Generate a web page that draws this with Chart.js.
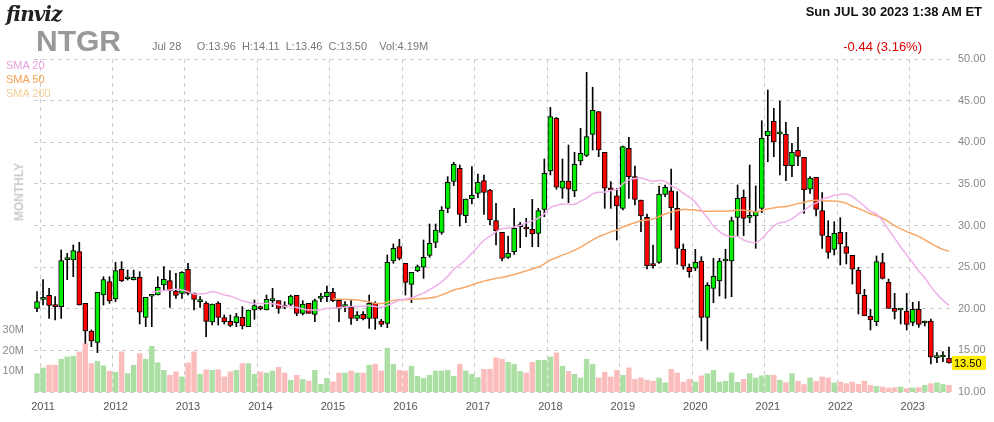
<!DOCTYPE html>
<html><head><meta charset="utf-8">
<script src="https://cdn.jsdelivr.net/npm/chart.js@4"></script>
<style>
body{margin:0;background:#fff;font-family:"Liberation Sans",Arial,sans-serif;}
#wrap{position:relative;width:994px;height:422px;}
canvas{position:absolute;left:0;top:0;}
.t{position:absolute;white-space:nowrap;}
</style></head><body>
<div id="wrap">
<canvas id="c" width="994" height="422"></canvas>
<div class="t" style="left:6px;top:2px;font:bold italic 20px 'DejaVu Serif',serif;color:#222;letter-spacing:-1px">finviz</div>
<div class="t" style="right:12px;top:4px;font:bold 13px 'Liberation Sans';color:#111">Sun JUL 30 2023 1:38 AM ET</div>
<div class="t" style="left:36px;top:24px;font:bold 30px 'Liberation Sans';color:#999">NTGR</div>
<div class="t" style="left:152px;top:40px;font:11px 'Liberation Sans';color:#777;word-spacing:0px">Jul 28 &nbsp;&nbsp;&nbsp;&nbsp;O:13.96 &nbsp;H:14.11 &nbsp;L:13.46 &nbsp;C:13.50 &nbsp;&nbsp;&nbsp;Vol:4.19M</div>
<div class="t" style="right:72px;top:39px;font:13px 'Liberation Sans';color:#d00">-0.44 (3.16%)</div>
<div class="t" style="left:6px;top:59px;font:11px 'Liberation Sans';color:#e8a0e0">SMA 20</div>
<div class="t" style="left:6px;top:73px;font:11px 'Liberation Sans';color:#f5a050">SMA 50</div>
<div class="t" style="left:6px;top:87px;font:11px 'Liberation Sans';color:#f3d090">SMA 200</div>
<div class="t" style="left:-10px;top:185px;transform:rotate(-90deg);font:bold 12px 'Liberation Sans';color:#ccc">MONTHLY</div>
</div>
<script>
const open_=[20.05,21.13,21.61,20.3,20.25,25.9,25.86,26.86,20.65,17.33,15.97,21.65,23.25,21.17,24.73,23.6,23.5,23.77,18.97,21.5,21.65,22.85,23.37,22.13,21.85,24.73,21.89,20.85,20.69,18.41,20.69,18.93,18.49,18.33,18.97,17.85,19.85,20.25,19.85,20.97,20.97,20.25,20.53,21.61,19.45,20.65,19.33,21.25,21.45,21.97,21.01,20.25,20.17,18.85,19.33,18.85,20.65,18.53,18.25,25.74,27.46,25.46,22.93,24.58,24.98,26.42,27.98,29.18,32.06,35.3,36.87,31.18,33.22,33.86,35.39,34.26,30.58,29.18,26.18,26.86,29.86,29.6,29.54,29.06,31.94,36.55,42.87,34.47,35.35,34.15,37.75,38.43,40.95,43.67,38.79,34.3,33.55,32.06,39.27,35.87,33.06,30.98,25.2,25.58,33.74,34.15,32.06,27.14,24.98,24.86,25.74,18.97,22.45,23.33,25.74,25.74,30.98,33.38,30.98,31.14,32.06,40.79,42.51,41.0,40.95,37.19,39.03,38.19,34.35,35.79,31.78,28.7,27.14,29.18,27.46,26.42,24.62,21.61,19.09,18.45,25.54,23.17,20.05,19.85,19.73,18.37,19.93,18.29,18.53,14.13,14.2,14.05];
const close_=[20.85,21.37,20.41,20.25,25.78,25.95,26.98,20.45,17.33,16.13,21.97,23.5,20.93,24.57,23.33,23.6,23.77,19.6,21.37,21.53,22.57,23.53,22.13,21.61,24.37,21.85,21.13,20.85,18.49,20.57,18.97,18.45,18.01,19.05,17.93,19.85,20.37,20.0,21.13,20.97,20.05,20.2,21.53,19.45,20.57,19.45,20.97,21.53,21.97,20.97,20.05,20.3,18.85,19.25,18.77,20.65,18.85,18.13,25.58,27.26,26.06,23.17,24.37,25.06,26.18,27.86,29.46,31.82,35.19,37.35,31.34,33.18,33.62,35.19,33.98,30.66,29.34,26.06,26.66,29.66,29.9,29.58,28.98,31.78,36.27,43.07,34.59,35.35,34.35,37.35,38.67,40.67,43.83,39.07,34.47,34.27,32.34,39.47,35.87,33.14,31.14,25.18,25.18,33.74,34.59,32.14,27.26,25.1,24.46,25.58,18.97,22.81,23.89,25.74,25.78,30.58,33.26,30.86,31.0,31.66,40.47,41.35,40.03,41.0,37.19,38.79,38.31,34.27,35.71,31.94,28.82,26.78,29.06,27.78,26.66,24.74,21.77,19.13,18.65,25.66,23.65,20.05,19.69,19.85,18.13,19.93,18.13,18.53,14.17,14.13,14.25,13.5];
const high_=[22.05,23.5,22.45,21.45,27.06,26.66,27.66,27.98,20.65,17.45,21.97,23.85,23.85,25.58,25.66,24.65,24.65,24.45,21.37,21.53,23.85,25.06,24.57,24.25,24.45,25.46,21.89,21.45,20.85,20.57,20.85,19.25,19.25,19.45,20.25,19.85,21.05,20.33,21.65,22.45,20.97,20.85,21.65,21.61,20.97,20.65,21.17,21.85,22.73,22.45,21.13,20.85,21.13,19.65,19.65,21.65,20.85,18.73,26.46,27.78,28.34,25.46,24.37,25.26,28.26,30.18,30.18,32.26,35.87,37.59,37.27,33.18,37.07,36.19,36.07,34.35,32.66,29.18,28.74,32.06,30.38,30.86,33.14,32.06,37.99,44.19,42.99,37.99,39.67,38.79,41.67,48.4,46.6,43.67,38.79,35.27,34.47,39.55,40.59,37.15,33.06,31.38,27.66,34.75,34.87,36.79,34.07,27.78,25.38,27.14,26.26,23.13,26.06,26.06,27.14,31.0,34.87,34.27,37.27,34.75,42.59,46.28,44.07,44.95,42.4,39.87,41.8,38.19,35.87,35.79,33.94,30.58,30.46,30.94,29.18,26.42,24.98,22.33,19.93,26.34,26.66,23.57,21.85,19.85,21.85,20.78,20.86,18.53,18.77,14.73,14.85,15.4];
const low_=[19.65,20.45,18.85,18.65,18.85,23.5,23.85,20.45,15.85,15.45,14.73,20.45,20.65,20.85,23.25,23.45,23.45,18.17,17.85,17.85,21.65,22.25,20.17,21.25,21.25,21.65,19.85,20.17,16.65,18.05,18.05,18.17,17.85,17.85,17.57,17.85,18.73,19.85,19.85,20.25,19.45,20.0,20.25,19.17,19.25,19.45,18.45,20.85,20.85,20.85,18.45,19.65,18.13,18.57,18.65,17.65,17.53,17.85,17.73,25.46,25.86,21.65,20.73,24.45,23.65,26.18,27.34,28.94,31.54,34.79,29.94,30.34,32.58,33.34,31.34,30.06,27.66,25.74,26.06,26.54,27.34,28.66,27.46,27.46,31.06,36.07,34.35,33.26,32.74,33.46,37.27,38.27,39.07,38.27,32.06,32.06,28.26,31.86,33.26,32.46,29.26,24.78,24.86,25.46,33.46,29.46,25.34,24.74,23.78,24.58,16.13,15.13,20.73,21.53,21.25,21.45,28.66,28.78,30.34,27.26,31.54,37.67,38.27,36.07,35.39,35.87,37.19,31.46,33.86,31.14,27.26,26.06,26.46,25.26,25.38,22.97,19.37,19.25,17.45,17.97,23.57,20.05,18.77,18.17,17.45,17.97,17.77,17.93,13.37,13.53,13.65,13.46];
const volume_=[9.1,11.9,13.2,13.2,16.1,17.2,17.6,19.7,23.7,14,15.1,12.9,10.3,9.8,19.7,9.1,13.2,18.8,16.1,22.4,14.4,10.7,8.3,10,7.5,14.3,19.7,8.8,11.0,10.7,11.0,7.5,10.0,10.7,14.0,14.0,8.8,
9.9,9.4,10.4,12.2,9.4,5.9,8.3,6.3,5.5,10.7,3.9,6.8,5.1,9.4,9.4,10.4,9.4,9.4,13.2,13.7,10.4,21.5,13.7,10.7,10.4,12.7,7.8,6.8,8.3,10.4,10.4,10.7,7.8,13.7,10.4,8.8,7.2,11.2,11.2,
16.8,16.1,14.6,13.7,10.2,9.4,14.6,15.6,15.6,17.2,19.2,12.7,10.2,8.8,7.0,16.1,13.7,7.0,9.8,7.5,10.7,8.3,11.9,6.3,7.0,5.9,5.4,7.0,4.6,11.2,9.4,5.0,6.3,5.0,8.0,9.1,10.7,5.0,5.4,9.4,
4.9,6.3,9.1,7.0,8.0,8.3,8.3,5.9,4.7,9.1,5.4,3.8,7.0,5.4,7.5,7.0,4.6,5.0,4.2,5.0,3.9,5.4,3.4,2.9,2.6,2.1,2.3,2.6,1.8,2.1,2.3,3.4,4.2,4.6,3.8,3.4];
const priceTicks=[10,15,20,25,30,35,40,45,50];
const volTicks=[10,20,30];
const startYear=2010, startMonth=11; // Dec 2010 (0-based month)

const labels=open_.map((_,i)=>{const m=(startMonth+i)%12;const y=startYear+Math.floor((startMonth+i)/12);return m===0?String(y):'';});
function sma(n){return close_.map((_,i)=>{if(i<n-1)return null;let s=0;for(let k=i-n+1;k<=i;k++)s+=close_[k];return s/n;});}
const up=close_.map((c,i)=>c>=open_[i]);
const lastLabel={id:'lastLabel',afterDraw(ch){const y=ch.scales.y.getPixelForValue(close_[close_.length-1]);const c=ch.ctx;c.save();c.fillStyle='#ffee00';c.fillRect(952,y-7,34,14);c.fillStyle='#000';c.font='11px "Liberation Sans"';c.textBaseline='middle';c.fillText(close_[close_.length-1].toFixed(2),954,y+1);c.restore();}};
new Chart(document.getElementById('c'),{
 data:{labels,datasets:[
  {type:'line',data:sma(20),borderColor:'#f0b0e8',borderWidth:1.5,pointRadius:0,yAxisID:'y',order:0,tension:0.3},
  {type:'line',data:sma(50),borderColor:'#f7a868',borderWidth:1.5,pointRadius:0,yAxisID:'y',order:0,tension:0.3},
  {type:'bar',data:open_.map((o,i)=>[o,close_[i]]),backgroundColor:up.map(u=>u?'#00ee00':'#ff0000'),borderColor:'#000',borderWidth:1,borderSkipped:false,barThickness:5,minBarLength:2,grouped:false,yAxisID:'y',order:1},
  {type:'bar',data:low_.map((l,i)=>[l,high_[i]]),backgroundColor:'#000',barThickness:1,grouped:false,yAxisID:'y',order:2},
  {type:'bar',data:volume_,backgroundColor:up.map(u=>u?'#acdfa4':'#fbbcbc'),barPercentage:0.9,categoryPercentage:1,grouped:false,yAxisID:'v',order:3}
 ]},
 options:{responsive:false,animation:false,
  layout:{padding:{top:59,left:0,right:0,bottom:0}},
  plugins:{legend:{display:false},tooltip:{enabled:false}},
  scales:{
   x:{offset:true,grid:{color:c=>labels[c.index]?'#cccccc':'rgba(0,0,0,0)',tickLength:0},border:{display:false,dash:[4,4]},
      ticks:{autoSkip:false,maxRotation:0,color:'#555',font:{size:11,family:'Liberation Sans'},padding:8,callback:(v,i)=>labels[i]},
      afterFit:s=>{s.height=30;}},
   y:{position:'right',min:10,max:50,grid:{color:'#cccccc',tickLength:0},border:{display:false,dash:[4,4]},
      afterBuildTicks:s=>{s.ticks=priceTicks.map(v=>({value:v}));},
      ticks:{color:'#888',font:{size:11,family:'Liberation Sans'},padding:6,callback:v=>v.toFixed(2)},
      afterFit:s=>{s.width=42;}},
   v:{position:'left',min:0,max:162,grid:{display:false},border:{display:false},
      afterBuildTicks:s=>{s.ticks=volTicks.map(v=>({value:v}));},
      ticks:{color:'#888',font:{size:11,family:'Liberation Sans'},padding:2,callback:v=>v+'M'},
      afterFit:s=>{s.width=34;}}
  }},
 plugins:[lastLabel]
});
</script></body></html>
